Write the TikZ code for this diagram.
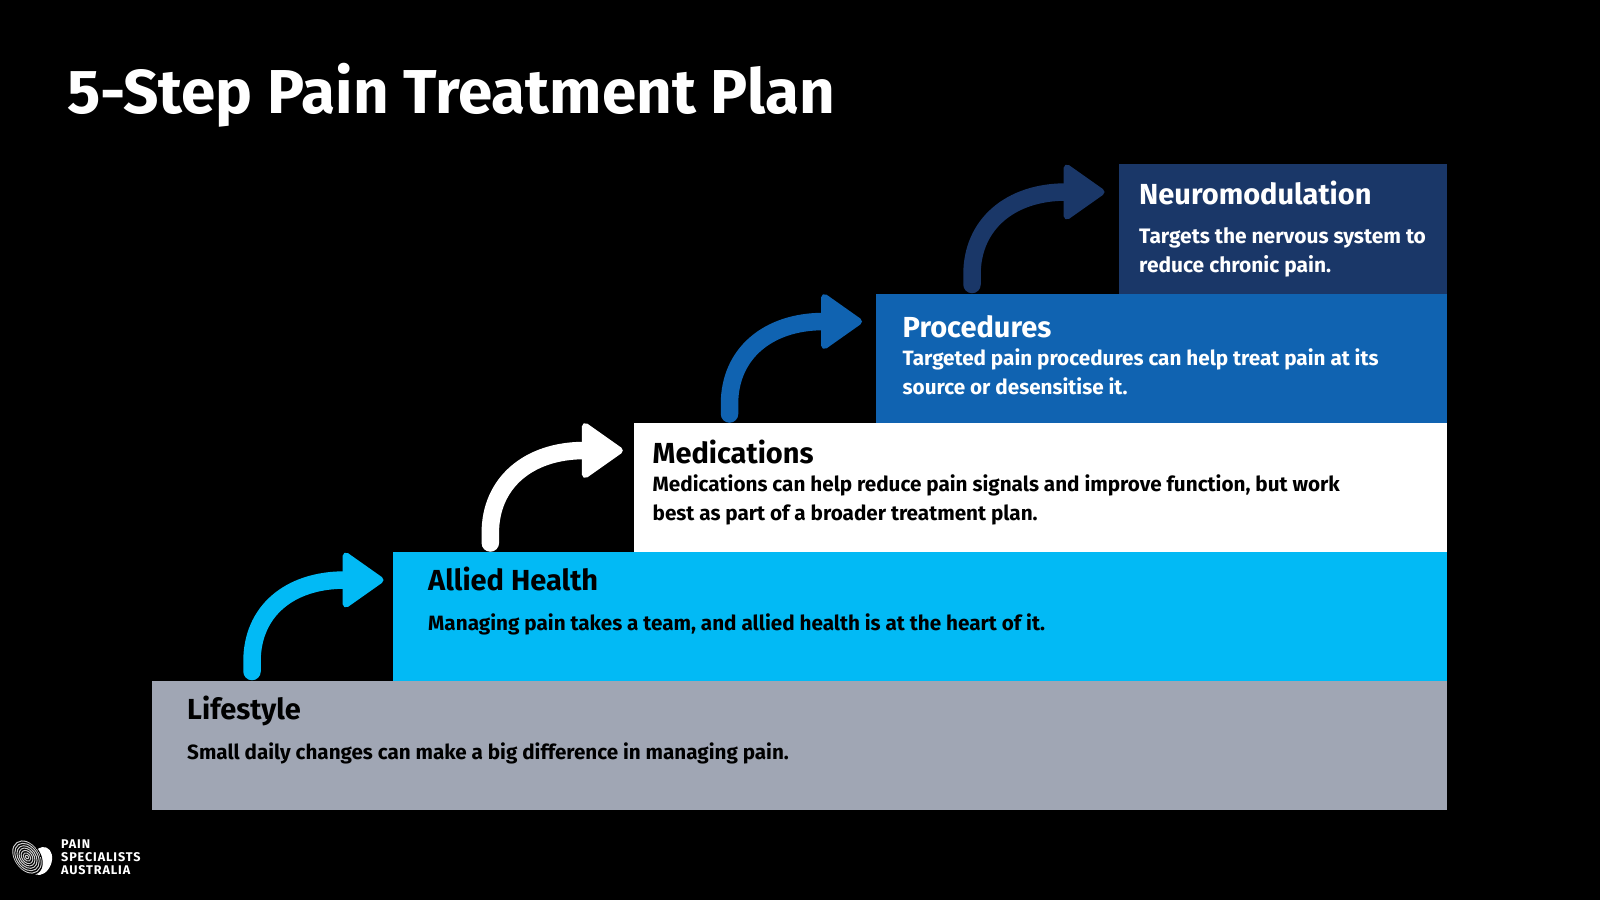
\documentclass[tikz,border=0pt]{standalone}
\usepackage{fontspec}
\setmainfont{Fira Sans}
\usetikzlibrary{calc}
\definecolor{gstep}{HTML}{A0A6B4}
\definecolor{cstep}{HTML}{02BAF5}
\definecolor{bstep}{HTML}{1063B1}
\definecolor{nstep}{HTML}{1A3768}
\tikzset{
  x=1pt,y=-1pt,
  stepbox/.style={anchor=north west,inner sep=0pt,outer sep=0pt,minimum height=129.5pt,fill=#1},
  heading/.style={anchor=base west,inner sep=0pt,font=\fontsize{29}{29}\selectfont\bfseries,text=#1},
  bodytext/.style={anchor=base west,inner sep=0pt,font=\fontsize{20.7}{20.7}\selectfont\bfseries,text=#1},
  logotext/.style={anchor=base west,inner sep=0pt,font=\fontsize{12.6}{12.6}\selectfont\bfseries\addfontfeature{LetterSpace=7},text=white},
}
\newcommand{\steparrow}[6]{% name, from box, to box, colour, tip dx, start dx
  \coordinate (#1tip) at ($(#3.north west)+(#5,28)$);
  \coordinate (#1start) at ($(#3.south west)+(#6,-9)$);
  \coordinate (#1neck) at ($(#1tip)+(-38,0)$);
  \draw[#4,line width=17.5pt,line cap=round] (#1start) -- ++(0,-10) .. controls +(0,-50) and ($(#1neck)+(-56,0)$) .. (#1neck);
  \fill[#4,draw=#4,line width=7pt,line join=round] ($(#1tip)+(-37,-24)$) -- ($(#1tip)+(-3,0)$) -- ($(#1tip)+(-37,24)$) -- cycle;
}
\begin{document}
\begin{tikzpicture}
\useasboundingbox[fill=black] (0,0) rectangle (1600,900);
\node[anchor=base west,inner sep=0pt,text=white,font=\fontsize{62}{62}\selectfont\bfseries] (title) at (67,113) {5-Step Pain Treatment Plan};

\node[stepbox=gstep,minimum width=1294.9pt,minimum height=129.4pt] (lifestyle) at (152.3,680.5) {};
\node[stepbox=cstep,minimum width=1054.2pt,minimum height=128.5pt] (allied) at (393,552) {};
\node[stepbox=white,minimum width=812.9pt] (medications) at (634.3,422.5) {};
\node[stepbox=bstep,minimum width=571.7pt] (procedures) at (875.5,293.5) {};
\node[stepbox=nstep,minimum width=328.2pt] (neuromod) at (1119,164) {};

\node[heading=black] (h1) at (187,719) {Lifestyle};
\node[bodytext=black,font=\fontsize{20.63}{20.63}\selectfont\bfseries] (b1) at (187,759.5) {Small daily changes can make a big difference in managing pain.};
\node[heading=black] (h2) at (428,590) {Allied Health};
\node[bodytext=black] (b2) at (428,630) {Managing pain takes a team, and allied health is at the heart of it.};
\node[heading=black] (h3) at (652.5,463) {Medications};
\node[bodytext=black] (b3a) at (652.5,491.5) {Medications can help reduce pain signals and improve function, but work};
\node[bodytext=black] (b3b) at (652.5,520.5) {best as part of a broader treatment plan.};
\node[heading=white] (h4) at (902.5,337) {Procedures};
\node[bodytext=white] (b4a) at (902.5,365) {Targeted pain procedures can help treat pain at its};
\node[bodytext=white] (b4b) at (902.5,394) {source or desensitise it.};
\node[heading=white] (h5) at (1139,204) {Neuromodulation};
\node[bodytext=white,font=\fontsize{20.95}{20.95}\selectfont\bfseries] (b5a) at (1139,243) {Targets the nervous system to};
\node[bodytext=white,font=\fontsize{20.95}{20.95}\selectfont\bfseries] (b5b) at (1139,272) {reduce chronic pain.};

\steparrow{aa}{lifestyle}{allied}{cstep}{-10}{-141}
\steparrow{ab}{allied}{medications}{white}{-12}{-144}
\steparrow{ac}{medications}{procedures}{bstep}{-14}{-146}
\steparrow{ad}{procedures}{neuromod}{nstep}{-15}{-147}

% logo
\fill[white,rotate around={-22:(41,861)}] (41,861) ellipse (10.5pt and 14.5pt);
\fill[black,rotate around={35:(27,857)}] (27,857) ellipse (13.5pt and 19.5pt);
\begin{scope}
\clip[rotate around={35:(27,857)}] (27,857) ellipse (12.5pt and 18.5pt);
\foreach \r in {2,4.6,...,24}{
  \draw[white!80!black,line width=1pt,rotate around={35:(27,857)}] (27,857) ellipse ({\r*0.7pt} and {\r pt});
}
\end{scope}
\node[logotext] (l1) at (61,848) {PAIN};
\node[logotext] (l2) at (61,861) {SPECIALISTS};
\node[logotext] (l3) at (61,874) {AUSTRALIA};
\end{tikzpicture}
\end{document}
